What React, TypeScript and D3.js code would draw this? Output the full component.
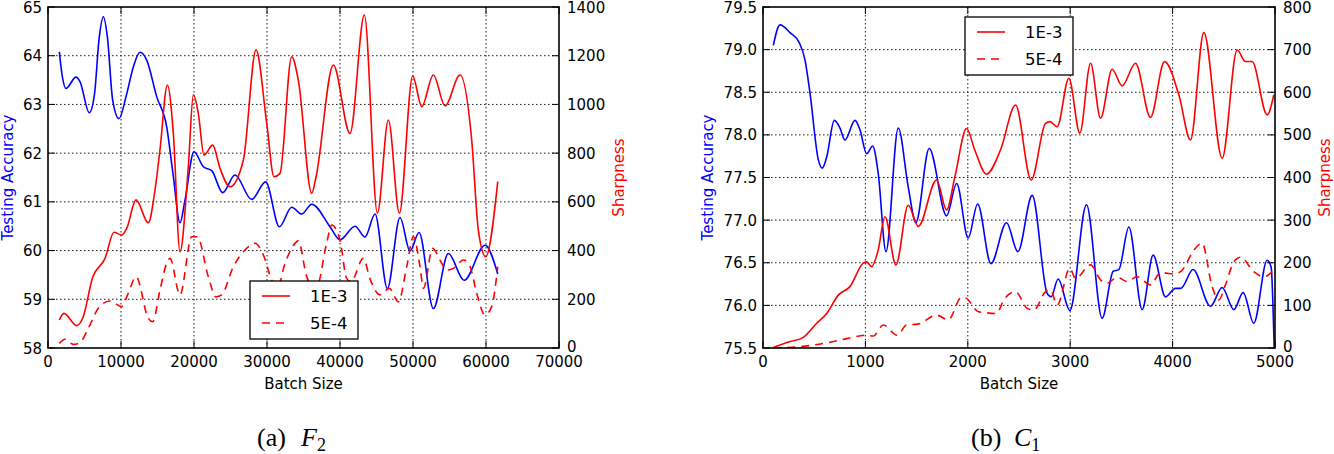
import * as d3 from 'd3';
import * as React from 'react';

type Pt = [number, number];

// (a) F2 : batch size vs testing accuracy / sharpness
const f2XTicks = [0, 10000, 20000, 30000, 40000, 50000, 60000, 70000];
const f2AccTicks = [58, 59, 60, 61, 62, 63, 64, 65];
const f2SharpTicks = [0, 200, 400, 600, 800, 1000, 1200, 1400];

const f2Accuracy: Pt[] = [
  [1550, 64.08], [1870, 63.67], [2470, 63.33], [3840, 63.56], [4380, 63.47], [5660, 62.83],
  [6350, 63.19], [7030, 64.39], [7580, 64.8], [8130, 64.39], [8860, 63.09], [9730, 62.71],
  [10690, 63.16], [11690, 63.77], [12600, 64.07], [13520, 63.91], [14890, 63.16], [16260, 62.54],
  [17170, 61.52], [18080, 60.57], [18770, 61.04], [20000, 62.03], [21280, 61.72], [22430, 61.64],
  [23930, 61.19], [25620, 61.55], [27900, 61.05], [29820, 61.41], [31700, 60.49], [33380, 60.89],
  [34750, 60.75], [36130, 60.95], [38630, 60.49], [40000, 60.22], [42060, 60.5], [43430, 60.28],
  [44800, 60.75], [46490, 59.22], [48220, 60.68], [49590, 59.99], [50830, 60.37], [52790, 58.81],
  [54840, 59.94], [57000, 59.39], [59870, 60.11], [61610, 59.52],
];

const f2Sharp1e3: Pt[] = [
  [1550, 115], [2190, 142], [3930, 92], [4750, 122], [6120, 290], [7810, 368], [9040, 475],
  [10090, 464], [10780, 491], [12060, 608], [13740, 514], [14660, 649], [15340, 813], [16350, 1080],
  [17170, 881], [18080, 395], [19220, 744], [19910, 1040], [20590, 963], [21370, 792], [22560, 833],
  [23560, 738], [24930, 662], [26760, 772], [28500, 1224], [29960, 923], [30960, 703], [31780, 717],
  [33380, 1196], [34290, 1100], [36130, 635], [36720, 703], [39090, 1162], [41370, 881],
  [43340, 1367], [45120, 553], [46630, 936], [48130, 553], [49960, 1117], [51200, 991],
  [52790, 1121], [54390, 994], [56440, 1121], [58040, 854], [58950, 484], [59960, 375], [61610, 683],
];

const f2Sharp5e4: Pt[] = [
  [1550, 19], [2330, 36], [3470, 15], [4380, 22], [5530, 81], [6890, 163], [8490, 193],
  [10090, 170], [11000, 225], [12060, 293], [13740, 122], [14340, 108], [15340, 238], [16260, 348],
  [16710, 368], [18080, 218], [19690, 457], [20450, 457], [21960, 293], [23010, 210], [23790, 218],
  [25390, 334], [27210, 409], [28360, 430], [29500, 382], [30640, 279], [31400, 245], [32470, 348],
  [33380, 409], [34290, 440], [35440, 293], [36700, 240], [38170, 430], [38860, 505], [40000, 443],
  [40910, 286], [41500, 272], [43200, 368], [44100, 285], [45480, 218], [46760, 245], [48000, 190],
  [49140, 334], [50050, 457], [50960, 334], [51420, 245], [52700, 409], [53700, 361], [54620, 320],
  [55530, 327], [56900, 361], [57810, 334], [58730, 225], [59870, 136], [60780, 170], [61610, 334],
];

// (b) C1
const c1XTicks = [0, 1000, 2000, 3000, 4000, 5000];
const c1AccTicks = [75.5, 76, 76.5, 77, 77.5, 78, 78.5, 79, 79.5];
const c1SharpTicks = [0, 100, 200, 300, 400, 500, 600, 700, 800];

const c1Accuracy: Pt[] = [
  [101, 79.05], [166, 79.29], [264, 79.2], [355, 79.08], [410, 78.88], [459, 78.49], [540, 77.71],
  [579, 77.61], [622, 77.74], [696, 78.17], [752, 78.08], [800, 77.94], [898, 78.17], [947, 78.06],
  [1012, 77.78], [1071, 77.87], [1125, 77.55], [1201, 76.63], [1321, 78.08], [1418, 77.39],
  [1493, 76.97], [1623, 77.84], [1793, 77.05], [1891, 77.43], [2004, 76.79], [2096, 77.19],
  [2226, 76.49], [2378, 76.97], [2489, 76.63], [2629, 77.29], [2775, 76.14], [2814, 76.1],
  [2882, 76.31], [2997, 75.94], [3159, 77.18], [3312, 75.85], [3420, 76.4], [3475, 76.42],
  [3573, 76.92], [3703, 75.95], [3810, 76.59], [3931, 76.1], [4028, 76.2], [4080, 76.2],
  [4200, 76.42], [4370, 75.99], [4484, 76.21], [4598, 75.95], [4689, 76.15], [4793, 75.79],
  [4923, 76.53], [4962, 76.45], [4992, 75.5],
];

const c1Sharp1e3: Pt[] = [
  [101, 1], [264, 15], [394, 25], [524, 58], [622, 81], [735, 124], [849, 144], [979, 199],
  [1012, 202], [1061, 191], [1125, 230], [1191, 308], [1298, 195], [1418, 335], [1516, 285],
  [1695, 394], [1793, 324], [1874, 402], [1988, 515], [2069, 464], [2183, 408], [2320, 465],
  [2466, 570], [2619, 394], [2759, 527], [2802, 531], [2873, 519], [2987, 633], [3094, 504],
  [3199, 668], [3296, 539], [3410, 654], [3507, 615], [3638, 668], [3784, 541], [3921, 672],
  [4061, 594], [4175, 488], [4305, 740], [4484, 445], [4630, 699], [4712, 672], [4776, 672],
  [4923, 547], [4988, 594],
];

const c1Sharp5e4: Pt[] = [
  [101, 0], [361, 3], [622, 12], [817, 22], [1012, 30], [1077, 28], [1175, 54], [1311, 30],
  [1402, 54], [1516, 56], [1695, 77], [1809, 66], [1940, 119], [1982, 117], [2102, 85], [2167, 83],
  [2281, 81], [2352, 113], [2466, 132], [2580, 93], [2645, 89], [2759, 132], [2808, 136],
  [2873, 101], [2997, 187], [3052, 163], [3199, 195], [3296, 160], [3361, 152], [3459, 166],
  [3556, 156], [3654, 167], [3784, 148], [3882, 177], [4012, 174], [4077, 179], [4223, 234],
  [4288, 246], [4386, 144], [4451, 113], [4516, 148], [4598, 202], [4663, 213], [4793, 179],
  [4890, 167], [4988, 183],
];

const legendLabels = ['1E-3', '5E-4'];

const FONT = "'DejaVu Sans', sans-serif";
const BLUE = '#0000ff';
const RED = '#ff0000';
const DASH = '8,6';
const TOP = 7;
const BOTTOM = 348;

type PanelProps = {
  id: string;
  x0: number;
  x1: number;
  xTicks: number[];
  accTicks: number[];
  accFmt: (v: number) => string;
  sharpTicks: number[];
  acc: Pt[];
  solid: Pt[];
  dashed: Pt[];
  legend: { x: number; y: number };
  accLabelX: number;
  sharpLabelX: number;
};

const Panel = (p: PanelProps) => {
  const x = d3.scaleLinear().domain(d3.extent(p.xTicks) as [number, number]).range([p.x0, p.x1]);
  const yA = d3.scaleLinear().domain(d3.extent(p.accTicks) as [number, number]).range([BOTTOM, TOP]);
  const yS = d3.scaleLinear().domain(d3.extent(p.sharpTicks) as [number, number]).range([BOTTOM, TOP]);
  const lineA = d3.line<Pt>().x((d) => x(d[0])).y((d) => yA(d[1])).curve(d3.curveMonotoneX);
  const lineS = d3.line<Pt>().x((d) => x(d[0])).y((d) => yS(d[1])).curve(d3.curveMonotoneX);
  const midY = (TOP + BOTTOM) / 2;
  const tick = 7;

  return (
    <g fontFamily={FONT}>
      <defs>
        <clipPath id={p.id}>
          <rect x={p.x0} y={TOP} width={p.x1 - p.x0} height={BOTTOM - TOP} />
        </clipPath>
      </defs>
      {/* grid */}
      <g stroke="#000" strokeWidth={0.9} strokeDasharray="1.5,2.5">
        {p.xTicks.slice(1, -1).map((t) => (
          <line key={'gx' + t} x1={x(t)} x2={x(t)} y1={TOP} y2={BOTTOM} />
        ))}
        {p.accTicks.slice(1, -1).map((t) => (
          <line key={'gy' + t} x1={p.x0} x2={p.x1} y1={yA(t)} y2={yA(t)} />
        ))}
      </g>
      {/* curves */}
      <g clipPath={`url(#${p.id})`} fill="none" strokeWidth={1.6} strokeLinejoin="round">
        <path d={lineA(p.acc) ?? ''} stroke={BLUE} />
        <path d={lineS(p.dashed) ?? ''} stroke={RED} strokeDasharray={DASH} />
        <path d={lineS(p.solid) ?? ''} stroke={RED} />
      </g>
      {/* ticks */}
      <g stroke="#000" strokeWidth={1}>
        {p.xTicks.map((t) => (
          <g key={'tx' + t}>
            <line x1={x(t)} x2={x(t)} y1={BOTTOM} y2={BOTTOM - tick} />
            <line x1={x(t)} x2={x(t)} y1={TOP} y2={TOP + tick} />
          </g>
        ))}
        {p.accTicks.map((t) => (
          <line key={'ta' + t} x1={p.x0} x2={p.x0 + tick} y1={yA(t)} y2={yA(t)} />
        ))}
        {p.sharpTicks.map((t) => (
          <line key={'ts' + t} x1={p.x1} x2={p.x1 - tick} y1={yS(t)} y2={yS(t)} />
        ))}
      </g>
      <rect x={p.x0} y={TOP} width={p.x1 - p.x0} height={BOTTOM - TOP} fill="none" stroke="#000" strokeWidth={1.6} />
      {/* tick labels */}
      <g fontSize={15} fill="#000">
        {p.xTicks.map((t) => (
          <text key={'lx' + t} x={x(t)} y={367} textAnchor="middle">{t}</text>
        ))}
        {p.accTicks.map((t) => (
          <text key={'la' + t} x={p.x0 - 6} y={yA(t) + 5.5} textAnchor="end">{p.accFmt(t)}</text>
        ))}
        {p.sharpTicks.map((t) => (
          <text key={'ls' + t} x={p.x1 + 8} y={yS(t) + (t === 0 ? 4 : 5.5)} textAnchor="start">{t}</text>
        ))}
      </g>
      {/* axis labels */}
      <text x={(p.x0 + p.x1) / 2} y={389} fontSize={15} textAnchor="middle" fill="#000">Batch Size</text>
      <text transform={`translate(${p.accLabelX},${midY}) rotate(-90)`} dy="0.35em" fontSize={15} textAnchor="middle" fill={BLUE}>
        Testing Accuracy
      </text>
      <text transform={`translate(${p.sharpLabelX},${midY}) rotate(-90)`} dy="0.35em" fontSize={15} textAnchor="middle" fill={RED}>
        Sharpness
      </text>
      {/* legend */}
      <g transform={`translate(${p.legend.x},${p.legend.y})`}>
        <rect width={108} height={58} fill="#fff" stroke="#000" strokeWidth={1.3} />
        {legendLabels.map((label, i) => (
          <g key={label} transform={`translate(0,${15 + i * 27})`}>
            <line x1={12} x2={40} stroke={RED} strokeWidth={1.6} strokeDasharray={i === 1 ? DASH : undefined} />
            <text x={60} y={6} fontSize={16.5} fill="#000">{label}</text>
          </g>
        ))}
      </g>
    </g>
  );
};

export default function App() {
  return (
    <svg
      width={1334}
      height={454}
      style={{ position: 'absolute', left: 0, top: 0, background: '#fff' }}
    >
      <Panel
        id="clipA"
        x0={48}
        x1={559}
        xTicks={f2XTicks}
        accTicks={f2AccTicks}
        accFmt={(v) => d3.format('d')(v)}
        sharpTicks={f2SharpTicks}
        acc={f2Accuracy}
        solid={f2Sharp1e3}
        dashed={f2Sharp5e4}
        legend={{ x: 250, y: 281 }}
        accLabelX={8}
        sharpLabelX={619}
      />
      <Panel
        id="clipB"
        x0={763}
        x1={1275}
        xTicks={c1XTicks}
        accTicks={c1AccTicks}
        accFmt={(v) => d3.format('.1f')(v)}
        sharpTicks={c1SharpTicks}
        acc={c1Accuracy}
        solid={c1Sharp1e3}
        dashed={c1Sharp5e4}
        legend={{ x: 965, y: 17 }}
        accLabelX={708}
        sharpLabelX={1325}
      />
      <g fontFamily="'Liberation Serif', 'Times New Roman', serif" fontSize={26} fill="#000">
        <text x={257} y={446}>
          (a)
          <tspan x={301} fontStyle="italic">F</tspan>
          <tspan fontSize={18} dy={5}>2</tspan>
        </text>
        <text x={971} y={446}>
          (b)
          <tspan x={1014} fontStyle="italic">C</tspan>
          <tspan fontSize={18} dy={5}>1</tspan>
        </text>
      </g>
    </svg>
  );
}
